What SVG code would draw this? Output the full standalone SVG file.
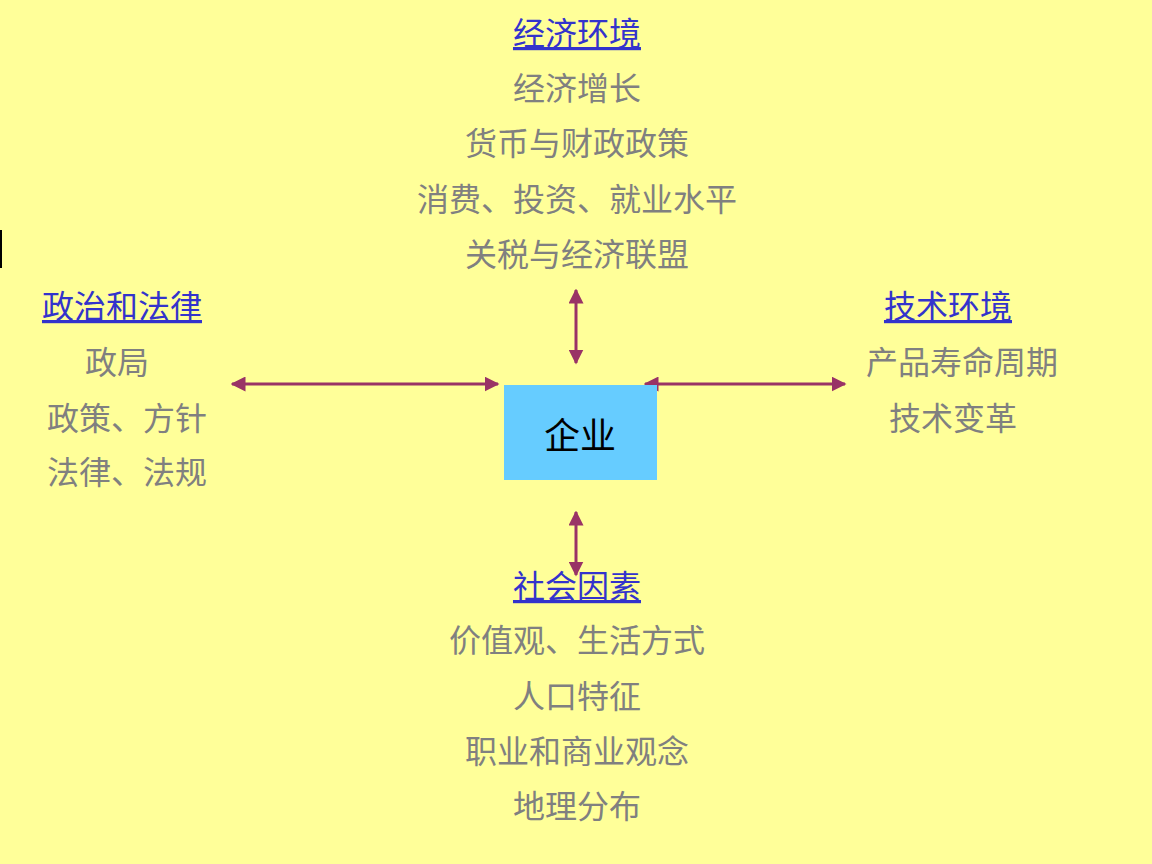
<svg xmlns="http://www.w3.org/2000/svg" width="1152" height="864" viewBox="0 0 1152 864">
<style>
text{font-family:"Noto Sans CJK SC","Liberation Sans",sans-serif;font-size:32px;text-anchor:middle}
.h{fill:#3333CC;text-decoration:underline}
.t{fill:#808080}
.c{stroke:#993366;stroke-width:3;fill:none}
</style>
<defs>
<marker id="a" viewBox="0 0 10 10" refX="9" refY="5" markerWidth="5" markerHeight="5" orient="auto-start-reverse"><path d="M0,0L10,5L0,10z" fill="#993366"/></marker>
</defs>
<rect width="1152" height="864" fill="#FFFF99"/>
<rect x="0" y="230" width="2" height="38" fill="#000"/>
<g id="connectors">
<line class="c" x1="576" y1="290" x2="576" y2="363" marker-start="url(#a)" marker-end="url(#a)"/>
<line class="c" x1="232" y1="384" x2="498" y2="384" marker-start="url(#a)" marker-end="url(#a)"/>
<line class="c" x1="645" y1="384" x2="845" y2="384" marker-start="url(#a)" marker-end="url(#a)"/>
<line class="c" x1="576" y1="512" x2="576" y2="575" marker-start="url(#a)" marker-end="url(#a)"/>
</g>
<g id="center"><rect x="504" y="385" width="153" height="95" fill="#66CCFF"/><text x="580" y="449" style="font-size:36px" fill="#000">企业</text></g>
<g id="economy">
<text class="h" x="577" y="45">经济环境</text>
<text class="t" x="577" y="100">经济增长</text>
<text class="t" x="577" y="155">货币与财政政策</text>
<text class="t" x="577" y="211">消费、投资、就业水平</text>
<text class="t" x="577" y="266">关税与经济联盟</text>
</g>
<g id="politics">
<text class="h" x="122" y="318">政治和法律</text>
<text class="t" x="117" y="374">政局</text>
<text class="t" x="127" y="430">政策、方针</text>
<text class="t" x="127" y="484">法律、法规</text>
</g>
<g id="tech">
<text class="h" x="948" y="318">技术环境</text>
<text class="t" x="962" y="374">产品寿命周期</text>
<text class="t" x="953" y="430">技术变革</text>
</g>
<g id="society">
<text class="h" x="577" y="598">社会因素</text>
<text class="t" x="577" y="652">价值观、生活方式</text>
<text class="t" x="577" y="708">人口特征</text>
<text class="t" x="577" y="763">职业和商业观念</text>
<text class="t" x="577" y="818">地理分布</text>
</g>
</svg>
